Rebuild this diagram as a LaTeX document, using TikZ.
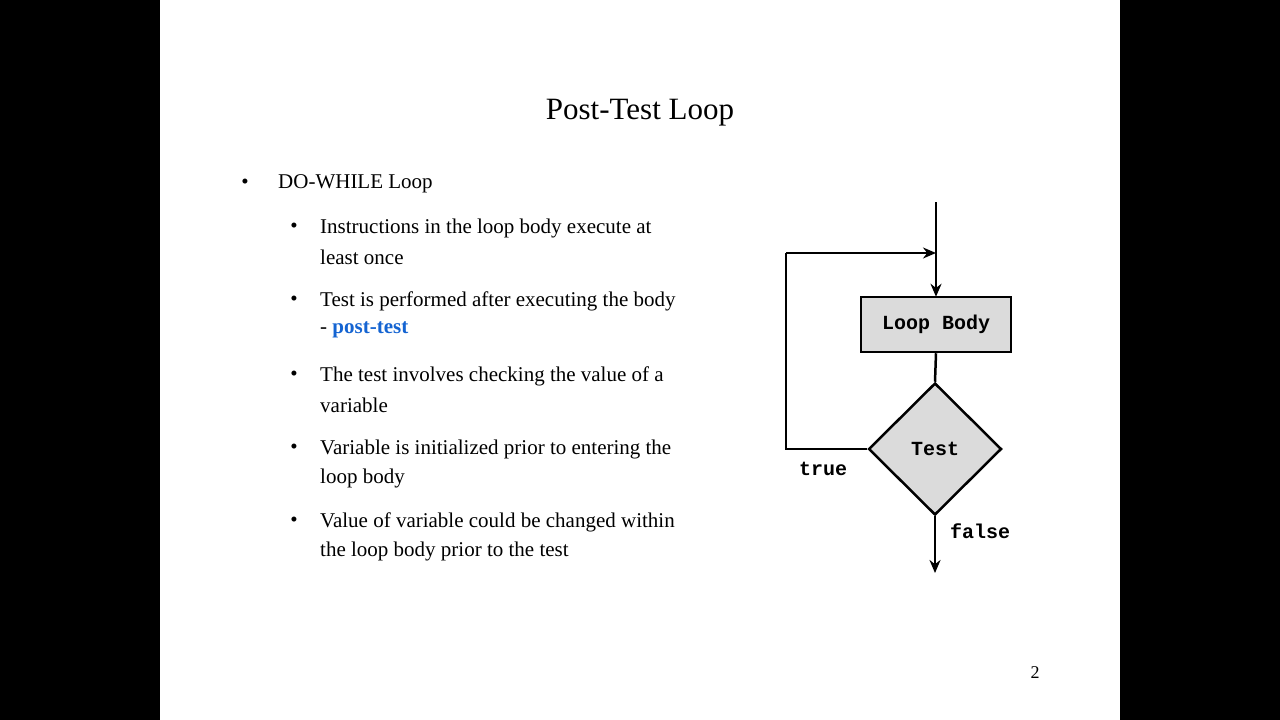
\documentclass[tikz,border=0pt]{standalone}
\usepackage{fontspec}
\setmainfont{Liberation Serif}
\setmonofont{Liberation Mono}
\usetikzlibrary{shapes.geometric,arrows.meta}
\definecolor{ptblue}{RGB}{20,100,210}
\begin{document}
\begin{tikzpicture}[x=1pt,y=-1pt,
  txt/.style={anchor=west,font=\fontsize{21}{24}\selectfont,inner sep=0},
  bul/.style={anchor=center,font=\fontsize{21}{24}\selectfont,inner sep=0},
  fc/.style={draw=black,line width=2.5pt,fill=black!14,font=\ttfamily\fontsize{20}{22}\selectfont},
  ln/.style={line width=2.5pt},
  arr/.style={ln,-{Stealth[length=13pt,width=11pt]}},
  lab/.style={font=\ttfamily\bfseries\fontsize{20}{22}\selectfont,inner sep=0}]
\fill[black] (0,0) rectangle (1280,720);
\fill[white] (160,0) rectangle (1120,720);
\node[font=\fontsize{31}{36}\selectfont] (title) at (640,113) {Post-Test Loop};
\node[bul] (b0) at (245,184) {•};
\node[txt] (t0) at (278,184) {DO-WHILE Loop};
\foreach \y/\a/\b [count=\i] in {228/Instructions in the loop body execute at/least once,
  301/Test is performed after executing the body/{- \textcolor{ptblue}{\textbf{post-test}}},
  376/The test involves checking the value of a/variable,
  449/Variable is initialized prior to entering the/loop body,
  522/Value of variable could be changed within/the loop body prior to the test}{
  \node[bul] (b\i) at (294,\y) {•};
  \node[txt] (l\i) at (320,\y) {\a};
  \node[txt] (m\i) at (320,\y+29) {\b};
}
\node[font=\fontsize{18}{20}\selectfont] (pg) at (1035,673) {2};
% flowchart
\node[fc,rectangle,minimum width=150,minimum height=55,inner sep=0] (body) at (936,324.5) {\textbf{Loop Body}};
\node[fc,diamond,minimum width=133,minimum height=132,inner sep=0] (test) at (935,449) {\textbf{Test}};
\coordinate (top) at (936,202);
\coordinate (join) at (936,253);
\coordinate (lc) at (786,449);
\coordinate (ul) at (786,253);
\coordinate (bot) at (935,573);
\draw[ln] (top) -- (join);
\draw[arr] (join) -- ([yshift=-1]body.north);
\draw[ln] (body.south) -- (test.north);
\draw[ln] (test.west) -- (lc) -- (ul);
\draw[arr] (ul) -- (join);
\draw[arr] (test.south) -- (bot);
\node[lab] (tr) at (823,469) {true};
\node[lab] (fa) at (980,531) {false};
\end{tikzpicture}
\end{document}
